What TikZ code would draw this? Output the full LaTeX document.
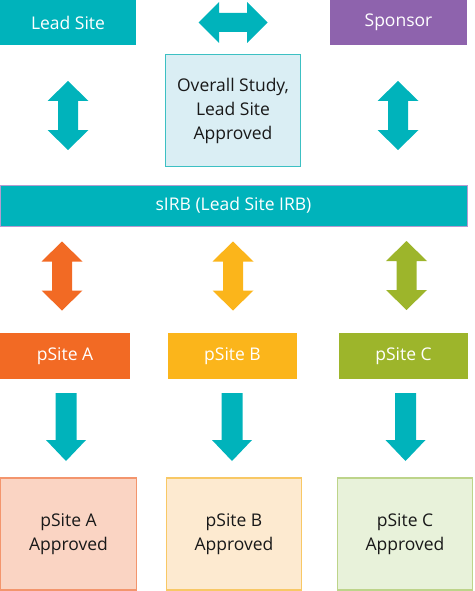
\documentclass[tikz,border=0pt]{standalone}
\usepackage{fontspec}
\setmainfont{Open Sans}
\definecolor{teal1}{HTML}{00B3BB}
\definecolor{purp}{HTML}{8E63AD}
\definecolor{orng}{HTML}{F26A24}
\definecolor{yelw}{HTML}{FBB51B}
\definecolor{grn}{HTML}{9DB52B}
\definecolor{lblue}{HTML}{DAEEF4}
\definecolor{lblueb}{HTML}{3CC0C3}
\definecolor{afill}{HTML}{FAD4C3}
\definecolor{aline}{HTML}{F3956D}
\definecolor{bfill}{HTML}{FDEAD0}
\definecolor{bline}{HTML}{F8C865}
\definecolor{cfill}{HTML}{E8F2DA}
\definecolor{cline}{HTML}{BDD48A}
\definecolor{lav}{HTML}{B49BD0}
\tikzset{
  txt/.style={font=\fontsize{17.5}{24}\selectfont, align=center, inner sep=0pt},
  solidbox/.style={txt, text=white, minimum height=45pt},
  lightbox/.style={txt, text=black!90, line width=1.2pt, minimum width=135pt, minimum height=112pt},
  vdouble/.pic={\fill[pic actions] (0,-34.5) -- (20.5,-14.5) -- (10,-14.5) -- (10,14.5) -- (20.5,14.5) -- (0,34.5) -- (-20.5,14.5) -- (-10,14.5) -- (-10,-14.5) -- (-20.5,-14.5) -- cycle;},
  hdouble/.pic={\fill[pic actions] (-34.5,0) -- (-14,-20.5) -- (-14,-9.5) -- (14,-9.5) -- (14,-20.5) -- (34.5,0) -- (14,20.5) -- (14,9.5) -- (-14,9.5) -- (-14,20.5) -- cycle;},
  vdown/.pic={\fill[pic actions] (-10.5,-34) -- (10.5,-34) -- (10.5,13) -- (20,13) -- (0,34) -- (-20,13) -- (-10.5,13) -- cycle;}
}
\begin{document}
\begin{tikzpicture}[x=1pt,y=-1pt]
\useasboundingbox (0,0) rectangle (474,591);
% top row
\node[solidbox, fill=teal1, minimum width=136pt] (lead) at (68,22.5) {Lead Site};
\node[solidbox, fill=purp, minimum width=137pt] (sponsor) at (398.5,22.5) {Sponsor};
\node[lightbox, fill=lblue, draw=lblueb] (overall) at (233,110.5) {\raisebox{-2pt}{\begin{tabular}{@{}c@{}}Overall Study,\\Lead Site\\Approved\end{tabular}}};
\node[solidbox, fill=teal1, draw=lav, line width=0.6pt, minimum width=467pt, minimum height=41pt] (sirb) at (233.5,205.5) {sIRB (Lead Site IRB)};
% pSites
\node[solidbox, fill=orng, minimum width=130pt, minimum height=46pt] (pA) at (65,356) {pSite A};
\node[solidbox, fill=yelw, minimum width=129pt, minimum height=46pt] (pB) at (232.5,356) {pSite B};
\node[solidbox, fill=grn, minimum width=129pt, minimum height=46pt] (pC) at (403.5,356) {pSite C};
% approved
\node[lightbox, fill=afill, draw=aline, minimum width=136pt] (aA) at (68.5,534) {\raisebox{-3pt}{\begin{tabular}{@{}c@{}}pSite A\\Approved\end{tabular}}};
\node[lightbox, fill=bfill, draw=bline] (aB) at (234,534) {\raisebox{-3pt}{\begin{tabular}{@{}c@{}}pSite B\\Approved\end{tabular}}};
\node[lightbox, fill=cfill, draw=cline] (aC) at (405,534) {\raisebox{-3pt}{\begin{tabular}{@{}c@{}}pSite C\\Approved\end{tabular}}};
% block arrows
\pic[fill=teal1] at (233,22.5) {hdouble};
\pic[fill=teal1] at (68,115.5) {vdouble};
\pic[fill=teal1] at (398,115.5) {vdouble};
\pic[fill=orng] at (62,276) {vdouble};
\pic[fill=yelw] at (233,276) {vdouble};
\pic[fill=grn] at (406.5,275.5) {vdouble};
\pic[fill=teal1] at (66,427) {vdown};
\pic[fill=teal1] at (232,427) {vdown};
\pic[fill=teal1] at (405.5,427) {vdown};
\end{tikzpicture}
\end{document}
